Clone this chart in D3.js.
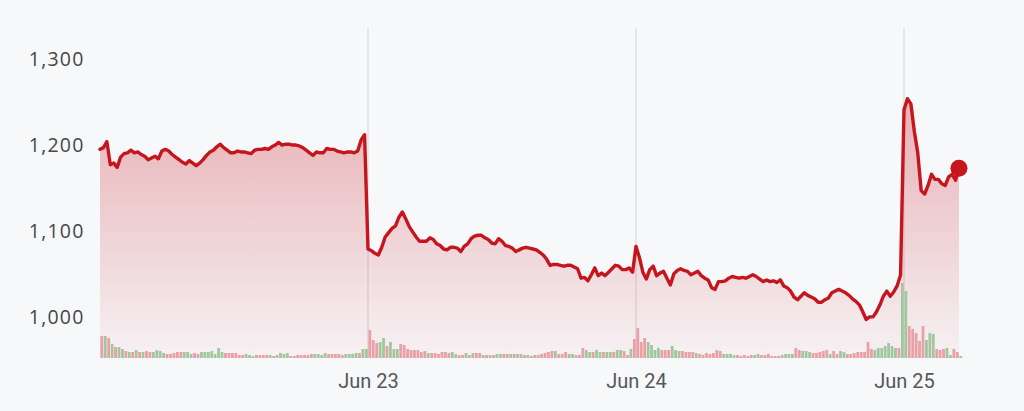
<!DOCTYPE html>
<html>
<head>
<meta charset="utf-8">
<script src="https://cdn.jsdelivr.net/npm/d3@7"></script>
<style>
  html, body { margin: 0; padding: 0; background: #f7f8fa; }
  svg { display: block; }
  .x-axis text { font-family: Roboto, sans-serif; }
  .y-axis text { font-family: 'Open Sans', sans-serif; letter-spacing: 1.2px; }
</style>
</head>
<body>
<div class="price_chart"></div>
<script>
// x tick labels sit on the first bar of each session
const tickLabels = ['Jun 23', 'Jun 24', 'Jun 25'];
const tickIndex = [78, 156, 234];
const priceTicks = [1000, 1100, 1200, 1300];
const barsPerDay = 78;

// 5-minute closes, one array per session
const price22 = [1194,1196,1203,1176,1178,1173,1185,1189,1190,1193,
  1190,1191,1188,1186,1182,1184,1186,1183,1192,1194,
  1192,1188,1185,1182,1179,1177,1181,1178,1175,1178,
  1182,1187,1191,1193,1197,1200,1196,1193,1190,1190,
  1192,1191,1191,1190,1189,1193,1194,1194,1195,1194,
  1197,1199,1202,1199,1200,1200,1199,1199,1198,1196,
  1193,1190,1187,1191,1190,1190,1195,1194,1194,1192,
  1191,1190,1191,1191,1190,1192,1205,1211];
const price23 = [1078,1076,1073,1071,1080,1092,1097,1102,1105,1115,
  1121,1113,1104,1098,1092,1087,1087,1087,1091,1089,
  1084,1082,1078,1077,1080,1080,1079,1075,1081,1084,
  1090,1093,1094,1094,1091,1089,1085,1084,1090,1087,
  1082,1081,1079,1075,1077,1079,1080,1079,1078,1077,
  1074,1071,1066,1059,1060,1060,1059,1058,1059,1059,
  1057,1055,1044,1045,1041,1048,1056,1047,1050,1047,
  1051,1055,1059,1058,1054,1054,1056,1051];
const price24 = [1081,1068,1051,1043,1054,1058,1047,1050,1052,1044,
  1036,1049,1053,1055,1053,1052,1048,1050,1052,1047,
  1044,1042,1033,1031,1040,1040,1041,1044,1046,1045,
  1044,1045,1044,1046,1048,1046,1043,1040,1042,1040,
  1041,1039,1042,1035,1033,1029,1022,1019,1023,1027,
  1024,1022,1020,1016,1016,1019,1021,1027,1029,1031,
  1029,1027,1024,1020,1017,1013,1005,996,999,999,
  1005,1013,1023,1029,1023,1028,1035,1048];
const price25 = [1240,1253,1247,1215,1190,1146,1142,1152,1165,1159,
  1159,1154,1152,1162,1165,1158,1172];

// volume (thousands) per bar
const volume22 = [220,220,200,140,110,110,90,70,60,60,
  80,60,60,70,60,60,80,70,50,40,
  40,50,60,60,60,60,40,50,40,60,
  60,60,70,40,100,60,50,50,50,50,
  30,30,40,30,20,30,30,30,30,30,
  20,30,50,40,50,20,20,30,30,30,
  30,40,40,40,30,50,40,40,40,40,
  30,40,40,40,50,50,90,90];
const volume23 = [280,180,150,160,200,120,160,90,90,140,
  130,90,80,80,80,60,70,50,50,50,
  40,60,60,50,60,40,30,30,50,30,
  50,50,50,30,30,30,30,40,40,40,
  40,40,40,40,40,30,30,20,30,30,
  40,50,60,70,70,40,40,60,40,40,
  30,30,100,80,60,60,80,60,60,60,
  60,60,80,80,70,30,90,190];
const volume24 = [300,160,200,160,130,80,100,80,80,80,
  120,80,70,70,60,60,60,50,40,30,
  50,40,50,80,70,40,40,40,30,30,
  20,30,20,30,30,40,30,30,40,20,
  20,20,30,40,40,40,100,80,70,70,
  60,50,50,60,70,80,40,70,40,70,
  60,40,40,50,60,60,60,160,90,80,
  100,100,120,150,120,100,100,750];
const volume25 = [670,320,290,250,170,320,180,250,240,90,
  80,90,100,30,90,60,20];

// 1 = up bar (green), 0 = down bar (red)
const up22 = [0,1,0,1,0,1,1,0,1,0, 1,0,1,0,0,1,1,1,1,0, 0,0,0,0,1,1,1,0,0,1,
  1,1,1,1,1,1,0,0,0,0, 0,0,1,1,1,0,0,0,0,1, 1,0,1,1,1,0,0,0,0,0,
  0,0,1,1,1,1,0,0,0,0, 0,1,1,1,1,0,1,1];
const up23 = [0,0,0,1,1,0,1,1,1,0, 0,0,0,0,0,0,0,1,0,0, 0,0,0,0,1,1,0,0,1,0,
  1,0,0,1,0,1,0,1,1,0, 0,1,1,0,1,0,1,0,1,0, 0,0,0,0,1,0,0,0,1,1,
  0,0,0,1,1,0,1,1,0,1, 1,0,1,1,0,0,1,0];
const up24 = [0,0,0,1,1,1,1,0,0,0, 1,1,1,0,0,0,0,1,0,0, 0,0,0,0,0,1,1,1,1,0,
  0,0,0,0,1,1,0,0,0,0, 0,0,1,1,1,1,0,0,1,1, 1,0,0,0,0,0,1,0,0,1,
  1,0,0,0,0,0,0,0,0,1, 1,1,1,1,1,1,0,1];
const up25 = [1,0,0,0,0,0,1,1,1,0, 0,0,1,1,0,0,1];

const dayPrices = [price22, price23, price24, price25];
const dayVolumes = [volume22, volume23, volume24, volume25];
const dayUp = [up22, up23, up24, up25];

const data = [];
dayPrices.forEach((arr, d) => {
  arr.forEach((p, j) => {
    data.push({i: d * barsPerDay + j, price: p, volume: dayVolumes[d][j], up: dayUp[d][j]});
  });
});

const width = 1024, height = 411;
const plotTop = 28, plotBottom = 358;

const xScale = d3.scaleLinear()
                 .domain([0, barsPerDay * 3])
                 .range([100, 904]);
const yScale = d3.scaleLinear()
                 .domain([1000, 1300])
                 .range([316, 58.3]);
const volScale = d3.scaleLinear()
                   .domain([0, 800])
                   .range([0, 80]);

const svg = d3.select('.price_chart')
              .append('svg')
              .attr('width', width)
              .attr('height', height);

svg.append('rect')
   .attr('width', width)
   .attr('height', height)
   .attr('fill', '#f7f8fa');

const grad = svg.append('defs')
                .append('linearGradient')
                .attr('id', 'fillGrad')
                .attr('gradientUnits', 'userSpaceOnUse')
                .attr('x1', 0).attr('x2', 0)
                .attr('y1', 58).attr('y2', plotBottom);
grad.append('stop').attr('offset', '0%').attr('stop-color', '#c8161e').attr('stop-opacity', 0.36);
grad.append('stop').attr('offset', '100%').attr('stop-color', '#c8161e').attr('stop-opacity', 0.03);

// session gridlines
svg.append('g')
   .selectAll('line')
   .data(tickIndex)
   .enter()
   .append('line')
   .attr('x1', d => xScale(d))
   .attr('x2', d => xScale(d))
   .attr('y1', plotTop)
   .attr('y2', plotBottom)
   .attr('stroke', '#d9dadd')
   .attr('stroke-width', 1.2);

const area = d3.area()
               .x(d => xScale(d.i))
               .y0(plotBottom)
               .y1(d => yScale(d.price));

svg.append('path')
   .datum(data)
   .attr('d', area)
   .attr('fill', 'url(#fillGrad)');

// volume bars
svg.append('g')
   .selectAll('rect')
   .data(data)
   .enter()
   .append('rect')
   .attr('x', d => xScale(d.i) + 0.4)
   .attr('width', 2.8)
   .attr('y', d => plotBottom - volScale(d.volume))
   .attr('height', d => volScale(d.volume))
   .attr('fill', d => d.up ? '#a2c79e' : '#e9a1a7');

const line = d3.line()
               .x(d => xScale(d.i))
               .y(d => yScale(d.price));

svg.append('path')
   .datum(data)
   .attr('d', line)
   .attr('fill', 'none')
   .attr('stroke', '#c5161e')
   .attr('stroke-width', 3.4)
   .attr('stroke-linejoin', 'round')
   .attr('stroke-linecap', 'round');

const last = data[data.length - 1];
svg.append('circle')
   .attr('cx', xScale(last.i))
   .attr('cy', yScale(last.price))
   .attr('r', 8.5)
   .attr('fill', '#c5161e');

const yAxis = d3.axisLeft(yScale)
                .tickValues(priceTicks)
                .tickFormat(d3.format(','))
                .tickSize(0)
                .tickPadding(0);
const yG = svg.append('g')
              .attr('class', 'axis y-axis')
              .attr('transform', 'translate(84.5,0.8)')
              .call(yAxis);
yG.select('.domain').remove();
yG.selectAll('text')
  .attr('font-size', 19.5)
  .attr('fill', '#45474a');

const xAxis = d3.axisBottom(xScale)
                .tickValues(tickIndex)
                .tickFormat((d, i) => tickLabels[i])
                .tickSize(0);
const xG = svg.append('g')
              .attr('class', 'axis x-axis')
              .attr('transform', 'translate(0,387.5)')
              .call(xAxis);
xG.select('.domain').remove();
xG.selectAll('text')
  .attr('y', 0)
  .attr('dy', 0)
  .attr('font-size', 20)
  .attr('fill', '#55575b');
</script>
</body>
</html>
